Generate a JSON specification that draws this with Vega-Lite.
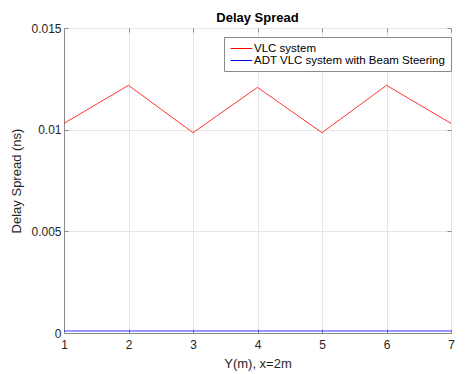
{
  "$schema": "https://vega.github.io/schema/vega-lite/v6.json",
  "width": 387,
  "height": 305,
  "autosize": {"type": "none"},
  "padding": {"left": 64, "top": 28, "right": 23, "bottom": 41},
  "background": "white",
  "config": {
    "font": "Liberation Sans",
    "view": {"stroke": "#8a8a8a", "strokeWidth": 1},
    "axis": {
      "labelFont": "Liberation Sans",
      "titleFont": "Liberation Sans",
      "labelColor": "#262626",
      "titleColor": "#262626",
      "labelFontSize": 12,
      "titleFontSize": 13,
      "titleFontWeight": "normal",
      "gridColor": "#e6e6e6",
      "gridWidth": 1,
      "domainColor": "#8a8a8a",
      "tickColor": "#8a8a8a",
      "tickSize": -4,
      "labelFlush": false,
      "labelOverlap": false
    }
  },
  "title": {
    "text": "Delay Spread",
    "font": "Liberation Sans",
    "fontSize": 13,
    "fontWeight": "bold",
    "color": "#000000",
    "offset": -3
  },
  "data": {
    "values": [
      {"y": 1, "delay": 0.01031, "series": "VLC system"},
      {"y": 2, "delay": 0.01218, "series": "VLC system"},
      {"y": 3, "delay": 0.00985, "series": "VLC system"},
      {"y": 4, "delay": 0.01208, "series": "VLC system"},
      {"y": 5, "delay": 0.00985, "series": "VLC system"},
      {"y": 6, "delay": 0.01218, "series": "VLC system"},
      {"y": 7, "delay": 0.01031, "series": "VLC system"},
      {"y": 1, "delay": 0.0001, "series": "ADT VLC system with Beam Steering"},
      {"y": 2, "delay": 0.0001, "series": "ADT VLC system with Beam Steering"},
      {"y": 3, "delay": 0.0001, "series": "ADT VLC system with Beam Steering"},
      {"y": 4, "delay": 0.0001, "series": "ADT VLC system with Beam Steering"},
      {"y": 5, "delay": 0.0001, "series": "ADT VLC system with Beam Steering"},
      {"y": 6, "delay": 0.0001, "series": "ADT VLC system with Beam Steering"},
      {"y": 7, "delay": 0.0001, "series": "ADT VLC system with Beam Steering"}
    ]
  },
  "layer": [
    {
      "mark": {"type": "line", "strokeWidth": 0.8},
      "encoding": {
        "x": {
          "field": "y",
          "type": "quantitative",
          "scale": {"domain": [1, 7], "nice": false, "zero": false},
          "axis": {"values": [1, 2, 3, 4, 5, 6, 7], "format": "d", "title": "Y(m), x=2m", "labelPadding": 10, "titlePadding": 7}
        },
        "y": {
          "field": "delay",
          "type": "quantitative",
          "scale": {"domain": [0, 0.015], "nice": false},
          "axis": {"values": [0, 0.005, 0.01, 0.015], "labelExpr": "format(datum.value, '.3~f')", "title": "Delay Spread (ns)", "labelPadding": 7, "titlePadding": 7}
        },
        "color": {
          "field": "series",
          "type": "nominal",
          "scale": {"domain": ["VLC system", "ADT VLC system with Beam Steering"], "range": ["#ff0000", "#0000ff"]},
          "legend": {
            "title": null,
            "orient": "none",
            "legendX": 160,
            "legendY": 9,
            "padding": 5,
            "strokeColor": "#8a8a8a",
            "fillColor": "white",
            "symbolType": "M-1.8,0H1.8",
            "symbolSize": 144,
            "symbolOffset": 6,
            "symbolStrokeWidth": 1,
            "labelFont": "Liberation Sans",
            "labelFontSize": 11.5,
            "labelColor": "#000000",
            "labelOffset": 6,
            "labelLimit": 400,
            "rowPadding": 0
          }
        },
        "detail": {"field": "series"},
        "order": {"field": "y", "type": "quantitative"}
      }
    },
    {
      "mark": {"type": "line", "opacity": 0},
      "encoding": {
        "x": {
          "field": "y",
          "type": "quantitative",
          "axis": {"orient": "top", "values": [1, 2, 3, 4, 5, 6, 7], "labels": false, "grid": false, "domain": false, "title": null}
        },
        "y": {
          "field": "delay",
          "type": "quantitative",
          "axis": {"orient": "right", "values": [0, 0.005, 0.01, 0.015], "labels": false, "grid": false, "domain": false, "title": null}
        },
        "detail": {"field": "series"}
      }
    }
  ],
  "resolve": {"axis": {"x": "independent", "y": "independent"}}
}
